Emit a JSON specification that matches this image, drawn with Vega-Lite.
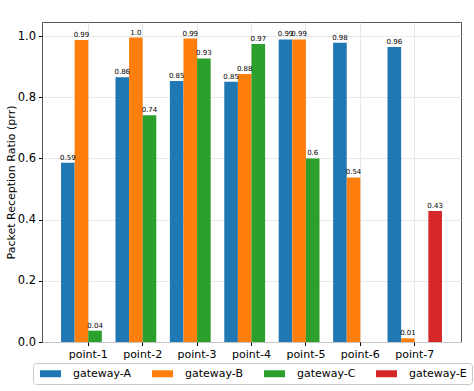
{
  "$schema": "https://vega.github.io/schema/vega-lite/v6.json",
  "autosize": {"type": "none"},
  "padding": {"left": 42, "top": 22, "right": 13, "bottom": 49},
  "width": 419,
  "height": 320,
  "background": "white",
  "config": {
    "font": "DejaVu Sans",
    "view": {"stroke": "#555555", "strokeWidth": 1},
    "axis": {
      "labelFont": "DejaVu Sans",
      "labelFontSize": 11,
      "labelColor": "#000000",
      "titleFont": "DejaVu Sans",
      "titleFontSize": 11,
      "titleFontWeight": "normal",
      "titleColor": "#000000",
      "tickColor": "#000000",
      "tickSize": 3.5,
      "gridColor": "#e3e3e3",
      "gridWidth": 0.8,
      "domain": false
    }
  },
  "data": {
    "values": [
      {"point": "point-1", "gateway": "gateway-A", "prr": 0.586, "label": "0.59"},
      {"point": "point-1", "gateway": "gateway-B", "prr": 0.987, "label": "0.99"},
      {"point": "point-1", "gateway": "gateway-C", "prr": 0.037, "label": "0.04"},
      {"point": "point-2", "gateway": "gateway-A", "prr": 0.865, "label": "0.86"},
      {"point": "point-2", "gateway": "gateway-B", "prr": 0.995, "label": "1.0"},
      {"point": "point-2", "gateway": "gateway-C", "prr": 0.741, "label": "0.74"},
      {"point": "point-3", "gateway": "gateway-A", "prr": 0.853, "label": "0.85"},
      {"point": "point-3", "gateway": "gateway-B", "prr": 0.992, "label": "0.99"},
      {"point": "point-3", "gateway": "gateway-C", "prr": 0.927, "label": "0.93"},
      {"point": "point-4", "gateway": "gateway-A", "prr": 0.851, "label": "0.85"},
      {"point": "point-4", "gateway": "gateway-B", "prr": 0.876, "label": "0.88"},
      {"point": "point-4", "gateway": "gateway-C", "prr": 0.974, "label": "0.97"},
      {"point": "point-5", "gateway": "gateway-A", "prr": 0.989, "label": "0.99"},
      {"point": "point-5", "gateway": "gateway-B", "prr": 0.989, "label": "0.99"},
      {"point": "point-5", "gateway": "gateway-C", "prr": 0.600, "label": "0.6"},
      {"point": "point-6", "gateway": "gateway-A", "prr": 0.978, "label": "0.98"},
      {"point": "point-6", "gateway": "gateway-B", "prr": 0.538, "label": "0.54"},
      {"point": "point-7", "gateway": "gateway-A", "prr": 0.964, "label": "0.96"},
      {"point": "point-7", "gateway": "gateway-B", "prr": 0.012, "label": "0.01"},
      {"point": "point-7", "gateway": "gateway-E", "prr": 0.428, "label": "0.43"}
    ]
  },
  "encoding": {
    "x": {
      "field": "point",
      "type": "nominal",
      "sort": ["point-1", "point-2", "point-3", "point-4", "point-5", "point-6", "point-7"],
      "scale": {"paddingInner": 0, "paddingOuter": 0.35},
      "axis": {"title": null, "labelAngle": 0, "grid": true, "ticks": true, "bandPosition": 0.5, "labelPadding": 3, "zindex": 0}
    },
    "xOffset": {
      "field": "gateway",
      "type": "nominal",
      "scale": {"domain": ["gateway-A", "gateway-B", "gateway-C", "gateway-E"], "paddingInner": 0, "paddingOuter": 0}
    },
    "y": {
      "field": "prr",
      "type": "quantitative",
      "scale": {"domain": [0, 1.046], "nice": false, "zero": true},
      "axis": {"title": "Packet Reception Ratio (prr)", "values": [0, 0.2, 0.4, 0.6, 0.8, 1.0], "format": ".1f", "grid": true, "labelPadding": 3, "labelFontSize": 11.5, "titlePadding": 1, "zindex": 0}
    }
  },
  "layer": [
    {
      "mark": {"type": "bar", "cornerRadius": 0},
      "encoding": {
        "color": {
          "field": "gateway",
          "type": "nominal",
          "scale": {"domain": ["gateway-A", "gateway-B", "gateway-C", "gateway-E"], "range": ["#1f77b4", "#ff7f0e", "#2ca02c", "#d62728"]},
          "legend": {
            "title": null,
            "orient": "none",
            "legendX": -9,
            "legendY": 341,
            "direction": "horizontal",
            "columns": 4,
            "symbolType": "M-3,-1H3V1H-3Z",
            "symbolSize": 49,
            "symbolOffset": 7,
            "symbolStrokeWidth": 0,
            "symbolOpacity": 1,
            "labelOffset": 17,
            "labelFont": "DejaVu Sans",
            "labelFontSize": 11,
            "labelColor": "#000000",
            "gridAlign": "all",
            "columnPadding": 18,
            "padding": 5,
            "fillColor": "white",
            "strokeColor": "#c8c8c8",
            "cornerRadius": 3
          }
        }
      }
    },
    {
      "mark": {"type": "text", "baseline": "bottom", "dy": -2, "fontSize": 7, "font": "DejaVu Sans", "color": "#000000"},
      "encoding": {"text": {"field": "label"}}
    }
  ]
}
